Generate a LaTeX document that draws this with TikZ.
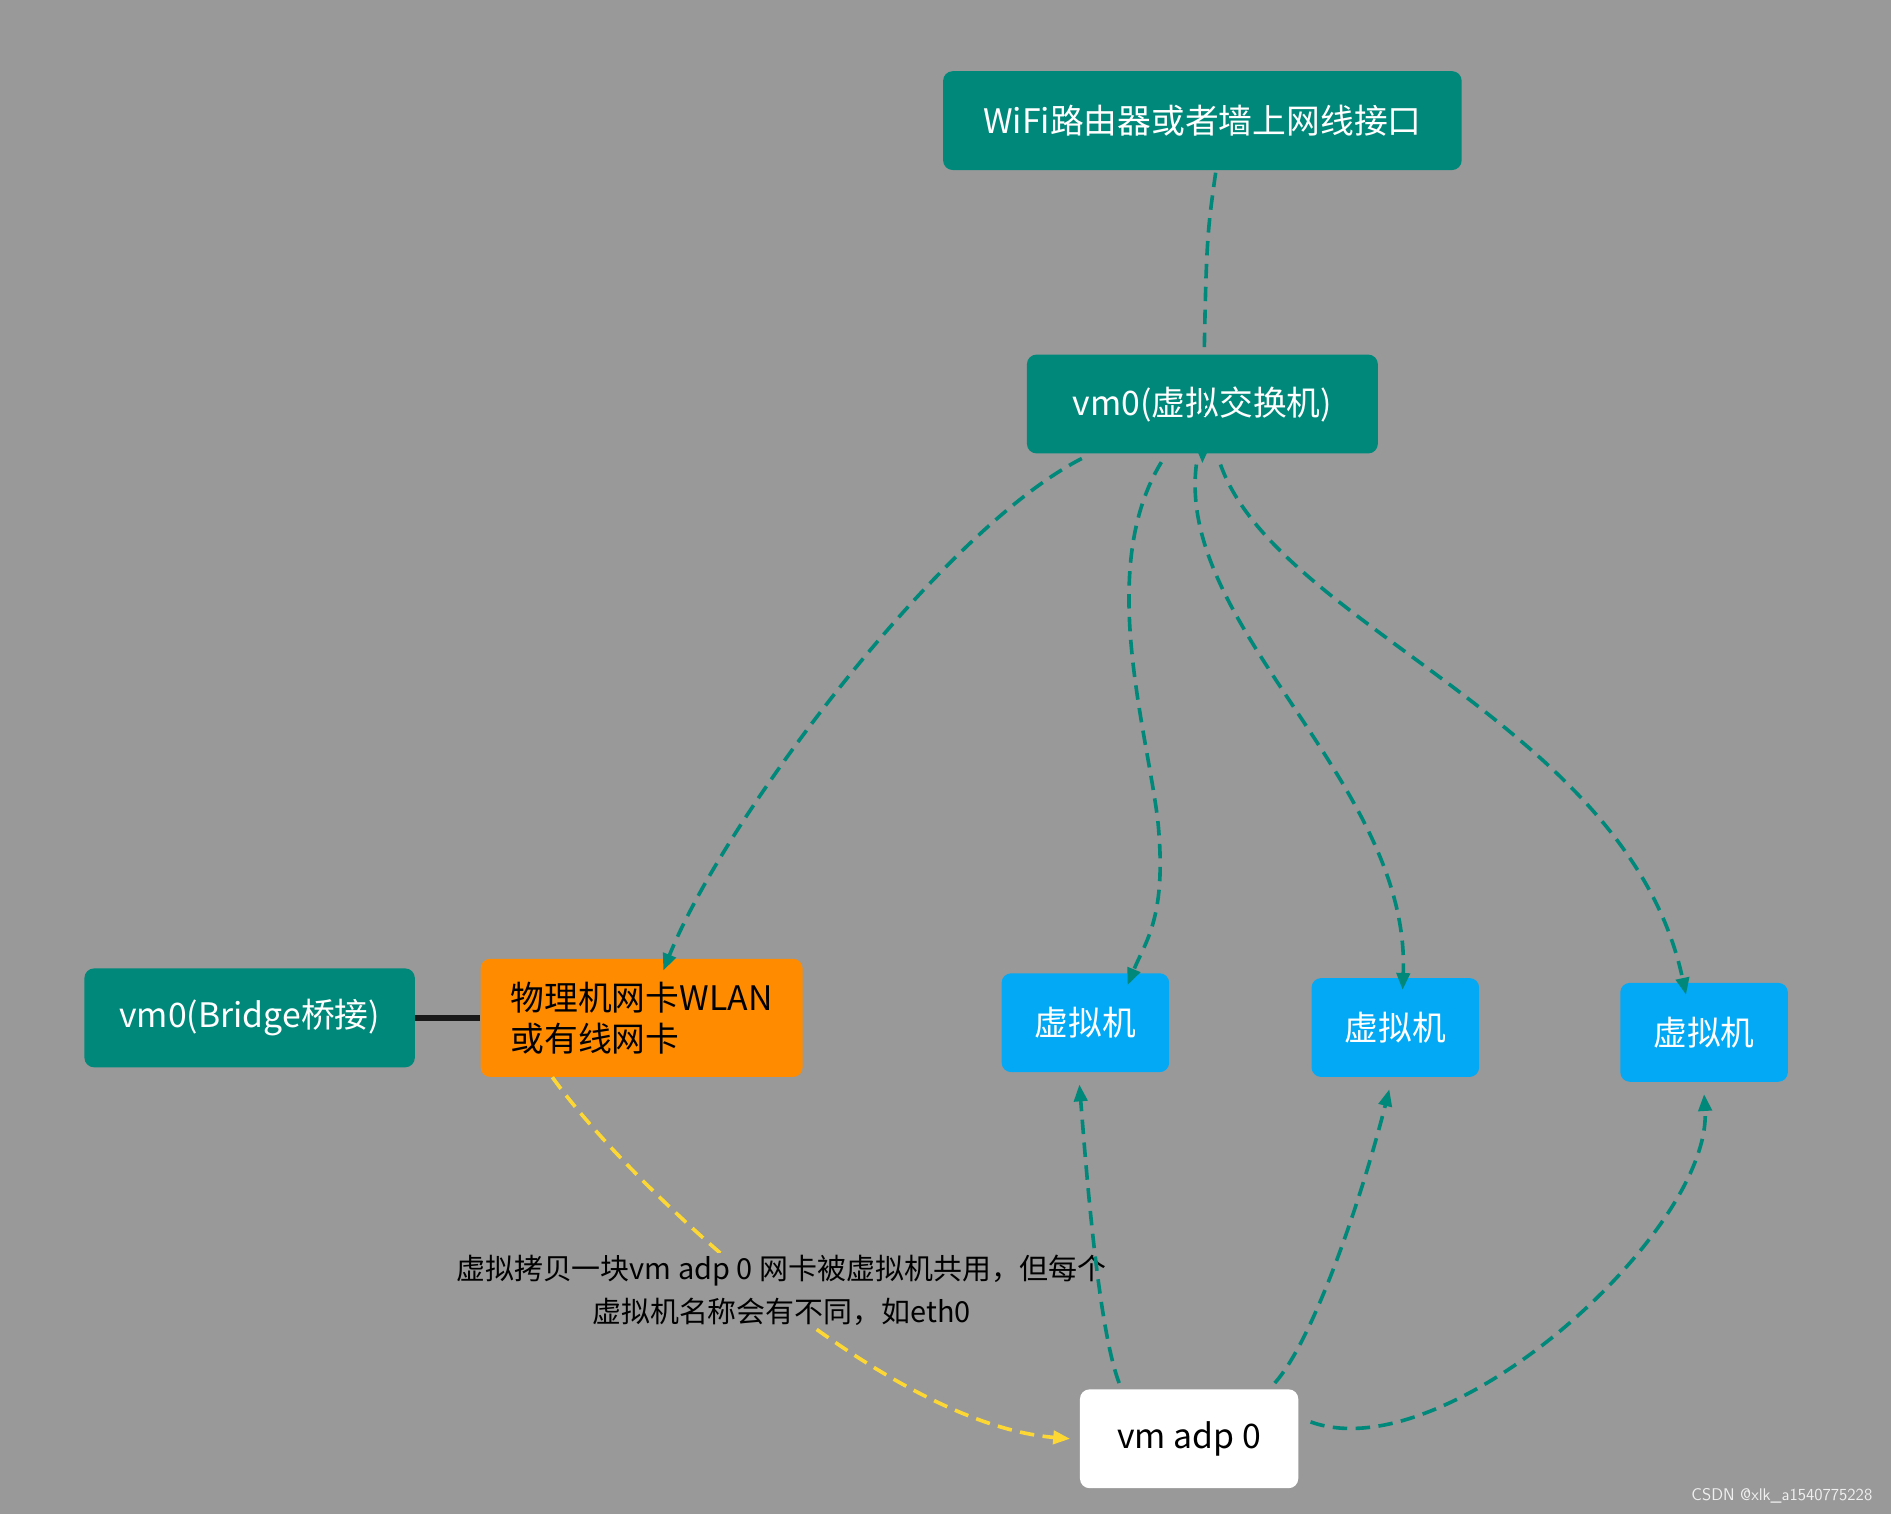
\documentclass[tikz,border=0pt]{standalone}
\usepackage{fontspec}
\setmainfont{Noto Sans CJK SC}
\usetikzlibrary{arrows.meta}
\definecolor{bg}{HTML}{999999}
\definecolor{teal}{HTML}{00897B}
\definecolor{blu}{HTML}{03A9F4}
\definecolor{org}{HTML}{FF8C00}
\definecolor{yel}{HTML}{FDD835}
\tikzset{
 box/.style={rounded corners=8pt,minimum height=82pt,font=\fontsize{28}{34}\selectfont,inner sep=6pt},
 tbox/.style={box,fill=teal,text=white},
 bbox/.style={box,fill=blu,text=white,minimum width=139pt},
 link/.style={teal,line width=3pt,dash pattern=on 12pt off 7pt,-{Triangle[length=14pt,width=11pt]}},
}
\begin{document}
\begin{tikzpicture}[x=1pt,y=-1pt]
\fill[bg] (0,0) rectangle (1568,1255);
\node[tbox,minimum width=430pt] (wifi) at (997,100) {WiFi路由器或者墙上网线接口};
\node[tbox,minimum width=291pt] (sw) at (997,335) {vm0(虚拟交换机)};
\node[tbox,minimum width=274pt] (br) at (207,844) {vm0(Bridge桥接)};
\node[box,fill=org,text=black,minimum width=267pt,minimum height=98pt,align=left] (nic) at (532,844) {物理机网卡WLAN\\或有线网卡};
\node[bbox] (v1) at (900,848) {虚拟机};
\node[bbox] (v2) at (1157,852) {虚拟机};
\node[bbox] (v3) at (1413,856) {虚拟机};
\node[box,fill=white,text=black,minimum width=181pt] (adp) at (986,1193) {vm adp 0};
\draw[line width=5pt,black!90] (br.east) -- (nic.west);
\draw[yel,line width=3pt,dash pattern=on 12pt off 7pt,-{Triangle[length=14pt,width=11pt]}]
 ([xshift=-74pt]nic.south) .. controls (520,980) and (730,1180) .. ([xshift=-8pt]adp.west);
\node[fill=bg,inner sep=2pt,align=center,font=\fontsize{24}{36}\selectfont] (lbl) at (648,1070) {虚拟拷贝一块vm adp 0 网卡被虚拟机共用，但每个\\虚拟机名称会有不同，如eth0};
\draw[link] ([xshift=11pt,yshift=-2pt]wifi.south) .. controls (1000,200) .. ([yshift=-8pt]sw.south);
\draw[link] ([xshift=-100pt,yshift=-4pt]sw.south) .. controls (780,440) and (600,680) .. ([xshift=18pt,yshift=-10pt]nic.north);
\draw[link] ([xshift=-34pt,yshift=-7pt]sw.south) .. controls (910,470) and (950,600) .. (960,680) .. controls (968,760) and (950,780) .. ([xshift=35pt,yshift=-10pt]v1.north);
\draw[link] ([xshift=-5pt,yshift=-9pt]sw.south) .. controls (975,520) and (1170,650) .. ([xshift=6pt,yshift=-10pt]v2.north);
\draw[link] ([xshift=15pt,yshift=-9pt]sw.south) .. controls (1060,520) and (1350,600) .. ([xshift=-15pt,yshift=-10pt]v3.north);
\draw[link] ([xshift=-58pt,yshift=5pt]adp.north) .. controls (910,1100) and (900,960) .. ([xshift=-5pt,yshift=-10pt]v1.south);
\draw[link] ([xshift=71pt,yshift=5pt]adp.north) .. controls (1090,1110) and (1130,990) .. ([xshift=-5pt,yshift=-10pt]v2.south);
\draw[link] ([xshift=10pt,yshift=14pt]adp.east) .. controls (1200,1220) and (1420,1020) .. ([yshift=-10pt]v3.south);
\node[text=white!85!bg,font=\fontsize{14}{16}\selectfont\sffamily,anchor=south east] (cr) at (1556,1250) {CSDN @xlk\_a1540775228};
\end{tikzpicture}
\end{document}
